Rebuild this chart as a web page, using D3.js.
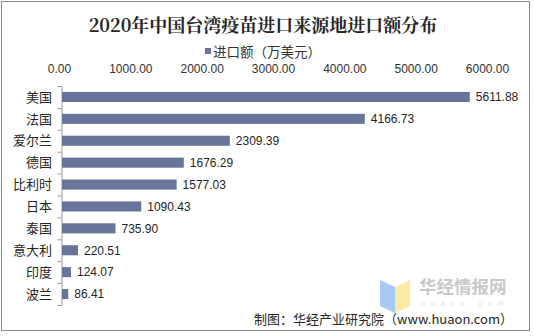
<!DOCTYPE html>
<html><head><meta charset="utf-8">
<script src="https://cdn.jsdelivr.net/npm/d3@7"></script>
<style>body{margin:0;background:#fff}svg{display:block}</style>
</head><body>
<script>
const categories = ["美国","法国","爱尔兰","德国","比利时","日本","泰国","意大利","印度","波兰"];
const values = [5611.88,4166.73,2309.39,1676.29,1577.03,1090.43,735.90,220.51,124.07,86.41];
const tickValues = [0,1000,2000,3000,4000,5000,6000];
const title = "2020年中国台湾疫苗进口来源地进口额分布";
const legendLabel = "进口额（万美元）";
const source = "制图：华经产业研究院（www.huaon.com）";

const W = 534, H = 336;
const svg = d3.select("body").append("svg").attr("width", W).attr("height", H);
const font = "'Liberation Sans', Arial, 'Noto Sans CJK SC', sans-serif";
const cjk = "'Noto Sans CJK SC', sans-serif";

svg.append("rect").attr("x",1.5).attr("y",1.5).attr("width",528).attr("height",329)
  .attr("fill","#fff").attr("stroke","#8c8c8c").attr("stroke-width",1);

// watermark
const wm = svg.append("g");
wm.append("path").attr("d","M380,280 L395,287 L395,313 L380,306 Z").attr("fill","#a8c8f5");
wm.append("path").attr("d","M395,287 L410,280 L410,306 L395,313 Z").attr("fill","#fbeaa3");
wm.append("text").attr("x",419).attr("y",293).attr("font-family",cjk).attr("font-weight","bold")
  .attr("font-size",17.5).attr("fill","#c9c9c9").text("华经情报网");
wm.append("text").attr("x",421).attr("y",306).attr("font-family",font)
  .attr("font-size",7).attr("fill","#e0e0e0").attr("letter-spacing",6).text("huaon.com");

svg.append("text").attr("x",263).attr("y",32).attr("text-anchor","middle")
  .attr("font-family","'Noto Serif CJK SC', "+cjk).attr("font-weight","bold").attr("font-size",18)
  .attr("fill","#262626").text(title);

const color = "#67749b";
svg.append("rect").attr("x",205).attr("y",48).attr("width",6).attr("height",6).attr("fill",color);
svg.append("text").attr("x",213).attr("y",57).attr("font-family",cjk).attr("font-size",13.5)
  .attr("fill","#333").text(legendLabel);

const x = d3.scaleLinear().domain([0,6000]).range([62,498]);
const xLab = d3.scaleLinear().domain([0,6000]).range([59,487]);
const y = d3.scaleBand().domain(categories).range([86,305]).paddingInner(0.54).paddingOuter(0.27);

const axTop = svg.append("g").attr("transform","translate(0,76)")
  .call(d3.axisTop(xLab).tickValues(tickValues).tickFormat(d3.format(".2f")).tickSize(0));
axTop.select(".domain").remove();
axTop.selectAll("text").attr("font-family",font).attr("font-size",12).attr("fill","#333");

const axLeft = svg.append("g").attr("transform","translate(61.5,0)")
  .call(d3.axisLeft(d3.scaleLinear().domain([0,categories.length]).range([86,305]))
    .tickValues(d3.range(categories.length+1)).tickFormat("").tickSize(4).tickSizeOuter(0));
axLeft.selectAll("line,path").attr("stroke","#999");

svg.append("g").selectAll("text").data(categories).join("text")
  .attr("x",52).attr("y",d=>y(d)+y.bandwidth()/2).attr("dy","0.36em").attr("text-anchor","end")
  .attr("font-family",cjk).attr("font-size",13).attr("fill","#262626").text(d=>d);

svg.append("g").selectAll("rect").data(values).join("rect")
  .attr("x",x(0)).attr("y",(d,i)=>y(categories[i])).attr("width",d=>x(d)-x(0))
  .attr("height",y.bandwidth()).attr("fill",color);

svg.append("g").selectAll("text").data(values).join("text")
  .attr("x",d=>x(d)+6).attr("y",(d,i)=>y(categories[i])+y.bandwidth()/2).attr("dy","0.36em")
  .attr("font-family",font).attr("font-size",12).attr("fill","#262626").text(d=>d.toFixed(2));

svg.append("text").attr("x",513).attr("y",324).attr("text-anchor","end")
  .attr("font-family",cjk).attr("font-size",13).attr("fill","#262626").text(source);
</script>
</body></html>
